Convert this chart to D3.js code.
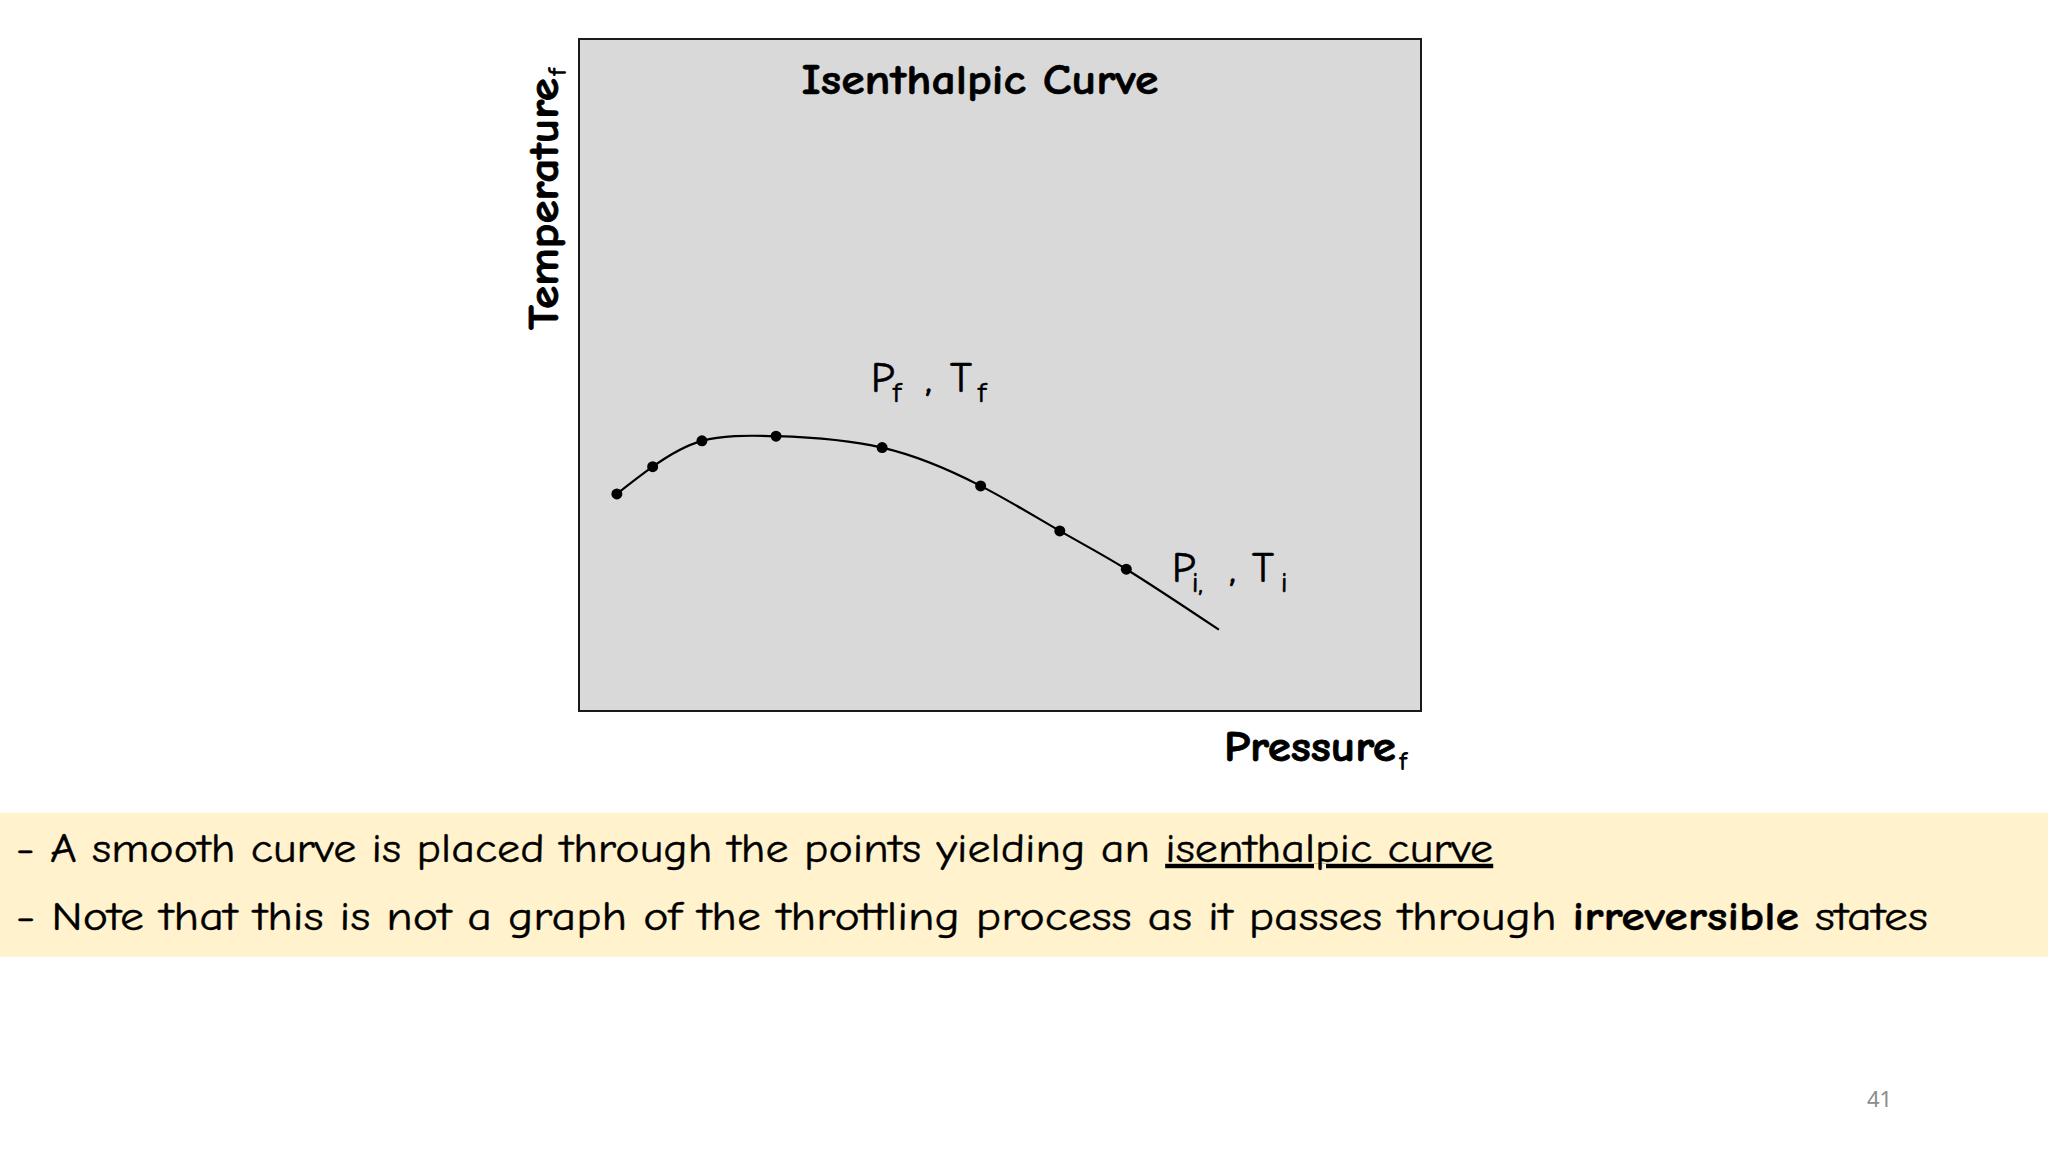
<!DOCTYPE html>
<html>
<head>
<meta charset="utf-8">
<script src="https://cdn.jsdelivr.net/npm/d3@7"></script>
<style>
  html, body { margin: 0; padding: 0; background: #ffffff; }
  svg { display: block; }
</style>
</head>
<body>
<svg id="chart"></svg>
<script>
var width = 2048;
var height = 1152;

// values (axes have no ticks, so 0-100 is a relative scale)
var pressure = [4.5, 8.75, 14.6, 23.4, 36.0, 47.7, 57.1, 65.0];
var temperature = [32.3, 36.35, 40.2, 40.9, 39.2, 33.5, 26.8, 21.1];
// the curve runs on past the last measured point
var curveTail = { p: 76.0, t: 12.1 };

var titleText = "Isenthalpic Curve";
var yLabel = "Temperature";
var xLabel = "Pressure";
var noteLines = [
  [
    { text: "- A smooth curve is placed through the points yielding an " },
    { text: "isenthalpic curve", underline: true }
  ],
  [
    { text: "- Note that this is not a graph of the throttling process as it passes through " },
    { text: "irreversible", bold: true },
    { text: " states" }
  ]
];
var pageNumber = "41";

var comic = "'Comic Sans MS', 'Comic Neue', 'Open Sans', sans-serif";

var box = { left: 579, right: 1421, top: 39, bottom: 711 };

var svg = d3
  .select("#chart")
  .attr("width", width)
  .attr("height", height)
  .style("background", "#ffffff");

var x = d3.scaleLinear().domain([0, 100]).range([box.left, box.right]);
var y = d3.scaleLinear().domain([0, 100]).range([box.bottom, box.top]);

// plot area
svg
  .append("rect")
  .attr("x", box.left)
  .attr("y", box.top)
  .attr("width", box.right - box.left)
  .attr("height", box.bottom - box.top)
  .attr("fill", "#d9d9d9")
  .attr("stroke", "#1a1a1a")
  .attr("stroke-width", 2);

svg
  .append("text")
  .attr("x", 980)
  .attr("y", 94)
  .attr("text-anchor", "middle")
  .attr("textLength", 357)
  .attr("lengthAdjust", "spacingAndGlyphs")
  .style("font-family", comic)
  .style("font-weight", "bold")
  .style("font-size", "42px")
  .style("stroke", "#000")
  .style("stroke-width", 0.6)
  .text(titleText);

// axis labels
var yLab = svg.append("g").attr("transform", "translate(558,330) rotate(-90)");
yLab
  .append("text")
  .attr("x", 0)
  .attr("y", 0)
  .attr("textLength", 252)
  .attr("lengthAdjust", "spacingAndGlyphs")
  .style("font-family", comic)
  .style("font-weight", "bold")
  .style("font-size", "42px")
  .style("stroke", "#000")
  .style("stroke-width", 0.8)
  .text(yLabel);
yLab
  .append("text")
  .attr("x", 254)
  .attr("y", 8)
  .style("font-family", comic)
  .style("font-weight", "bold")
  .style("font-size", "26px")
  .text("f");

svg
  .append("text")
  .attr("x", 1224)
  .attr("y", 761)
  .attr("textLength", 172)
  .attr("lengthAdjust", "spacingAndGlyphs")
  .style("font-family", comic)
  .style("font-weight", "bold")
  .style("font-size", "43px")
  .style("stroke", "#000")
  .style("stroke-width", 0.8)
  .text(xLabel);
svg
  .append("text")
  .attr("x", 1399)
  .attr("y", 770)
  .style("font-family", comic)
  .style("font-weight", "bold")
  .style("font-size", "26px")
  .text("f");

// curve and points
var points = pressure.map(function (p, i) {
  return { p: p, t: temperature[i] };
});

var line = d3
  .line()
  .x(function (d) { return x(d.p); })
  .y(function (d) { return y(d.t); })
  .curve(d3.curveNatural);

svg
  .append("path")
  .datum(points.concat([curveTail]))
  .attr("d", line)
  .attr("fill", "none")
  .attr("stroke", "#000000")
  .attr("stroke-width", 2.2);

svg
  .selectAll(".pt")
  .data(points)
  .enter()
  .append("circle")
  .attr("class", "pt")
  .attr("cx", function (d) { return x(d.p); })
  .attr("cy", function (d) { return y(d.t); })
  .attr("r", 5.5)
  .attr("fill", "#000000");

// state labels: main letters and their subscripts
function stateLabel(parts) {
  parts.forEach(function (part) {
    svg
      .append("text")
      .attr("x", part.x)
      .attr("y", part.y)
      .style("font-family", comic)
      .style("font-size", part.sub ? "28px" : "42px")
      .style("stroke", "#000")
      .style("stroke-width", 0.7)
      .text(part.t);
  });
}

stateLabel([
  { t: "P", x: 871, y: 392 },
  { t: "f", x: 893, y: 402, sub: true },
  { t: ",", x: 925, y: 392 },
  { t: "T", x: 950, y: 392 },
  { t: "f", x: 978, y: 402, sub: true }
]);

stateLabel([
  { t: "P", x: 1172, y: 582 },
  { t: "i,", x: 1192, y: 592, sub: true },
  { t: ",", x: 1229, y: 582 },
  { t: "T", x: 1252, y: 582 },
  { t: "i", x: 1281, y: 592, sub: true }
]);

// note band under the chart
svg
  .append("rect")
  .attr("x", 0)
  .attr("y", 813)
  .attr("width", width)
  .attr("height", 144)
  .attr("fill", "#fff2cc");

var lineLayout = [
  { y: 862, len: 1477 },
  { y: 930, len: 1912 }
];

noteLines.forEach(function (parts, i) {
  var t = svg
    .append("text")
    .attr("x", 16)
    .attr("y", lineLayout[i].y)
    .attr("textLength", lineLayout[i].len)
    .attr("lengthAdjust", "spacingAndGlyphs")
    .style("font-family", comic)
    .style("font-size", "40px")
    .style("stroke", "#000")
    .style("stroke-width", 0.4)
    .style("white-space", "pre");
  parts.forEach(function (part) {
    t.append("tspan")
      .style("font-weight", part.bold ? "bold" : "normal")
      .style("text-decoration", part.underline ? "underline" : "none")
      .text(part.text);
  });
});

svg
  .append("text")
  .attr("x", 1867)
  .attr("y", 1107)
  .style("font-family", "'Noto Sans', 'Open Sans', sans-serif")
  .style("font-size", "22px")
  .attr("fill", "#8c8c8c")
  .text(pageNumber);
</script>
</body>
</html>
